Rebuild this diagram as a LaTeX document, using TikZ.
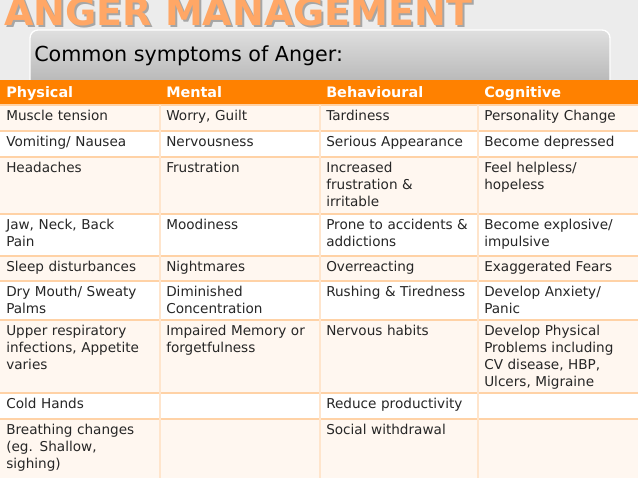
\documentclass[tikz,border=0pt]{standalone}
\usepackage{fontspec}
\setmainfont{DejaVu Sans}
\begin{document}
\begin{tikzpicture}[x=0.75pt,y=-0.75pt,
  cell/.style={anchor=north west,inner sep=0pt,text width=152*0.75pt,align=left,font=\fontsize{10.2pt}{12.8pt}\selectfont,text=black!85},
  head/.style={anchor=north west,inner sep=0pt,font=\bfseries\fontsize{10.8pt}{12pt}\selectfont,text=white}]
\fill[gray!15] (0,0) rectangle (638,478);
\useasboundingbox (0,0) rectangle (638,478);
\shade[top color=gray!25,bottom color=gray!60,rounded corners=6pt,draw=white,line width=1pt] (30,30) rectangle (610,90);
\node[anchor=west,inner sep=0pt,font=\bfseries\fontsize{28.5pt}{28pt}\selectfont,text=gray!70] (shadow) at (6,14) {ANGER MANAGEMENT};
\node[anchor=west,inner sep=0pt,font=\bfseries\fontsize{28.5pt}{28pt}\selectfont,text=orange!85!red!60!white] (title) at (4,12) {ANGER MANAGEMENT};
\node[anchor=west,inner sep=0pt,font=\fontsize{15.5pt}{18pt}\selectfont] (sub) at (34,56) {Common symptoms of Anger:};
\fill[orange!90!red!90!yellow] (0,80) rectangle (638,105);
\def\rows{105/131/1,131/157/0,157/214/1,214/256/0,256/281/1,281/320/0,320/393/1,393/419/0,419/478/1}
\foreach \a/\b/\c in \rows {
  \ifnum\c=1 \fill[red!8!orange!6!white] (0,\a) rectangle (638,\b); \else \fill[white] (0,\a) rectangle (638,\b); \fi
  \draw[orange!35,line width=1.2pt] (0,\a) -- (638,\a);
}
\foreach \x in {160,320,478} \draw[orange!20,line width=0.8pt] (\x,105) -- (\x,478);
\node[head] (h1) at (6,86) {Physical};
\node[head] (h2) at (166,86) {Mental};
\node[head] (h3) at (326,86) {Behavioural};
\node[head] (h4) at (484,86) {Cognitive};
\foreach \y/\p/\m/\bb/\cg in {
 110/Muscle tension/{Worry, Guilt}/Tardiness/Personality Change,
 136/{Vomiting/ Nausea}/Nervousness/Serious Appearance/Become depressed,
 162/Headaches/Frustration/{Increased\\frustration \&\\irritable}/{Feel helpless/\\hopeless},
 219/{Jaw, Neck, Back\\Pain}/Moodiness/{Prone to accidents \&\\addictions}/{Become explosive/\\impulsive},
 261/Sleep disturbances/Nightmares/Overreacting/Exaggerated Fears,
 286/{Dry Mouth/ Sweaty\\Palms}/{Diminished\\Concentration}/Rushing \& Tiredness/{Develop Anxiety/\\Panic},
 325/{Upper respiratory\\infections, Appetite\\varies}/{Impaired Memory or\\forgetfulness}/Nervous habits/{Develop Physical\\Problems including\\CV disease, HBP,\\Ulcers, Migraine},
 398/Cold Hands//Reduce productivity/,
 424/{Breathing changes\\(eg. Shallow,\\sighing)}//Social withdrawal/}{
 \node[cell] at (6,\y) {\p};
 \node[cell] at (166,\y) {\m};
 \node[cell] at (326,\y) {\bb};
 \node[cell] at (484,\y) {\cg};
}
\end{tikzpicture}
\end{document}
